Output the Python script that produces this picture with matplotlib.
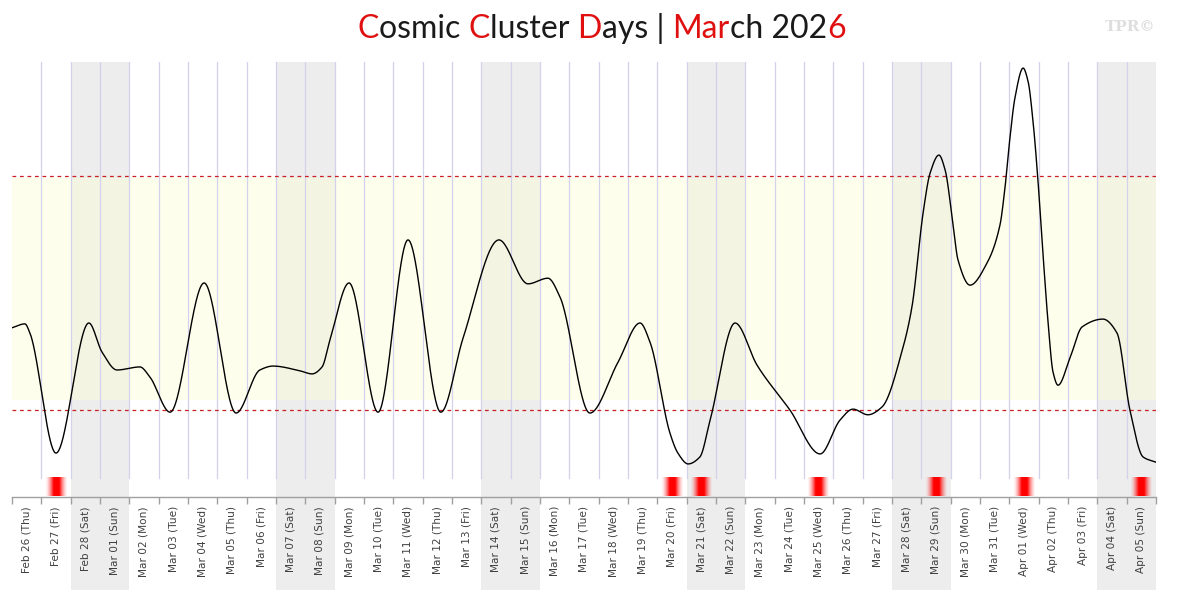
import numpy as np
import matplotlib
matplotlib.use("Agg")
import matplotlib.pyplot as plt
from matplotlib.patches import Rectangle

# ---------------- data ----------------
day_labels = ["Feb 26 (Thu)", "Feb 27 (Fri)", "Feb 28 (Sat)", "Mar 01 (Sun)", "Mar 02 (Mon)",
              "Mar 03 (Tue)", "Mar 04 (Wed)", "Mar 05 (Thu)", "Mar 06 (Fri)", "Mar 07 (Sat)",
              "Mar 08 (Sun)", "Mar 09 (Mon)", "Mar 10 (Tue)", "Mar 11 (Wed)", "Mar 12 (Thu)",
              "Mar 13 (Fri)", "Mar 14 (Sat)", "Mar 15 (Sun)", "Mar 16 (Mon)", "Mar 17 (Tue)",
              "Mar 18 (Wed)", "Mar 19 (Thu)", "Mar 20 (Fri)", "Mar 21 (Sat)", "Mar 22 (Sun)",
              "Mar 23 (Mon)", "Mar 24 (Tue)", "Mar 25 (Wed)", "Mar 26 (Thu)", "Mar 27 (Fri)",
              "Mar 28 (Sat)", "Mar 29 (Sun)", "Mar 30 (Mon)", "Mar 31 (Tue)", "Apr 01 (Wed)",
              "Apr 02 (Thu)", "Apr 03 (Fri)", "Apr 04 (Sat)", "Apr 05 (Sun)"]
weekend_days = [2, 3, 9, 10, 16, 17, 23, 24, 30, 31, 37, 38]
cluster_days = [1, 22, 23, 27, 31, 34, 38]

# curve samples: time in days from start (Feb 26 00:00) and index value
curve_t = [0.0, 0.44, 0.61, 1.5, 2.62, 3.07, 3.58, 4.36, 4.7, 5.39, 6.55, 7.64, 8.45, 8.9,
           9.82, 10.23, 10.57, 10.84, 11.49, 12.48, 13.5, 14.62, 15.38, 16.6, 17.59, 18.27,
           18.68, 19.7, 20.66, 21.41, 21.75, 22.43, 22.7, 23.05, 23.45, 23.8, 24.65, 25.4,
           26.52, 27.55, 28.23, 28.67, 29.18, 29.66, 30.38, 30.68, 31.06, 31.30,
           31.60, 31.81, 32.05, 32.25, 32.66, 33.24, 33.68, 33.85, 34.02, 34.19, 34.47,
           34.64, 34.81, 34.98, 35.15, 35.32, 35.49, 35.66, 36.07,
           36.48, 37.19, 37.67, 38.11, 38.56, 39.0]
curve_v = [38.9, 39.8, 37.7, 10.1, 40.0, 33.3, 29.2, 29.9, 27.6, 19.5, 49.2, 19.3, 29.2, 30.1,
           29.0, 28.3, 29.9, 36.1, 49.2, 19.5, 59.1, 19.5, 36.6, 59.1, 49.0, 50.3,
           46.0, 19.3, 31.0, 40.0, 35.6, 14.7, 10.1, 7.6, 9.2, 17.7, 40.0, 30.3,
           20.0, 9.9, 17.7, 20.2, 18.9, 20.7, 34.5, 43.7, 65.3, 74.5,
           78.6, 75.2, 64.4, 54.5, 48.7, 53.8, 62.5, 71.0, 82.5, 91.7, 98.6,
           95.5, 86.2, 72.4, 55.6, 40.2, 28.7, 25.7, 32.0,
           39.1, 40.9, 37.7, 20.0, 9.2, 8.0]

lower_line = 20.0
upper_line = 73.8
band_low, band_high = 22.4, 73.4


def pchip(x, y, xs):
    x = np.asarray(x, float); y = np.asarray(y, float)
    h = np.diff(x); delta = np.diff(y) / h
    n = len(x); d = np.zeros(n)
    for k in range(1, n - 1):
        if delta[k - 1] * delta[k] > 0:
            w1 = 2 * h[k] + h[k - 1]; w2 = h[k] + 2 * h[k - 1]
            d[k] = (w1 + w2) / (w1 / delta[k - 1] + w2 / delta[k])
    d[0] = delta[0]; d[-1] = delta[-1]
    idx = np.clip(np.searchsorted(x, xs) - 1, 0, n - 2)
    t = (xs - x[idx]) / h[idx]
    h00 = 2 * t**3 - 3 * t**2 + 1; h10 = t**3 - 2 * t**2 + t
    h01 = -2 * t**3 + 3 * t**2; h11 = t**3 - t**2
    return h00 * y[idx] + h10 * h[idx] * d[idx] + h01 * y[idx + 1] + h11 * h[idx] * d[idx + 1]


W, H = 1180, 611
fig = plt.figure(figsize=(W / 100, H / 100), dpi=100)
fig.patch.set_facecolor("white")
ax = fig.add_axes([12 / W, (H - 497) / H, (1156 - 12) / W, (497 - 62) / H])
ndays = len(day_labels)
ax.set_xlim(0, ndays)
ax.set_ylim(0, 100)
ax.set_facecolor("white")

# weekend shading (extends down into the label area)
for d in weekend_days:
    ax.add_patch(Rectangle((d, -21.4), 1, 121.4, facecolor="#ededed", edgecolor="none",
                           zorder=0.5, clip_on=False))

# yellow band
ax.axhspan(band_low, band_high, color="#fdfdd8", alpha=0.45, lw=0, zorder=1)

# vertical day separators
for d in range(1, ndays):
    ax.plot([d, d], [4.4, 100], color="#d2d2ec", lw=0.9, zorder=1.5)

# dashed limits
ax.axhline(lower_line, color="#cc2020", lw=0.9, ls=(0, (3, 3)), zorder=2)
ax.axhline(upper_line, color="#cc2020", lw=0.9, ls=(0, (3, 3)), zorder=2)

# curve
ts = np.linspace(curve_t[0], curve_t[-1], 4000)
ax.plot(ts, pchip(curve_t, curve_v, ts), color="black", lw=1.0, zorder=3)

# cluster-day markers (horizontal red gradients)
prof_x = np.linspace(-1, 1, 201)
alpha = np.clip((1 - np.abs(prof_x)) / 0.75, 0, 1) ** 1.7
img = np.zeros((1, 201, 4))
img[..., 0] = 1.0
img[..., 3] = alpha
for d in cluster_days:
    ax.imshow(img, extent=[d + 0.11, d + 0.89, 0.2, 4.4], aspect="auto",
              interpolation="bilinear", zorder=2.5)
ax.set_xlim(0, ndays)
ax.set_ylim(0, 100)

# axes / ticks
for s in ["top", "right", "left"]:
    ax.spines[s].set_visible(False)
ax.spines["bottom"].set_color("#a0a0a0")
ax.spines["bottom"].set_linewidth(1.0)
ax.set_yticks([])
ax.set_xticks(np.arange(0, ndays + 1))
ax.set_xticklabels([])
ax.tick_params(axis="x", which="major", length=5, color="#a0a0a0", width=1.0)
ax.set_xticks(np.arange(ndays) + 0.5, minor=True)
ax.set_xticklabels(day_labels, minor=True, rotation=90, fontsize=7.6,
                   color="#404040", family="DejaVu Sans")
ax.tick_params(axis="x", which="minor", length=0, pad=6.5)

# title with coloured letters
red, black = "#e01010", "#1a1a1a"
pieces = [("C", red), ("osmic ", black), ("C", red), ("luster ", black), ("D", red),
          ("ays | ", black), ("Mar", red), ("ch 202", black), ("6", red)]
full = "".join(p[0] for p in pieces)
tprops = dict(fontsize=23, family="Lato")
fig.canvas.draw()
renderer = fig.canvas.get_renderer()


def text_width(s):
    t = fig.text(0, 0, s, **tprops)
    w = t.get_window_extent(renderer).width
    t.remove()
    return w


wI = text_width("I")
total = text_width(full)
cx = 601.5
x0 = cx - total / 2
prefix = ""
for s, c in pieces:
    off = text_width(prefix + "I") - wI if prefix else 0.0
    fig.text((x0 + off) / W, 1 - 38 / H, s, color=c, ha="left", va="baseline", **tprops)
    prefix += s

# faint logo
fig.text(1130 / W, 1 - 27 / H, "TPR\u00a9", color="#dedede", fontsize=11,
         family="DejaVu Serif", ha="center", va="center", fontweight="bold")

fig.savefig("out.png", dpi=100)
